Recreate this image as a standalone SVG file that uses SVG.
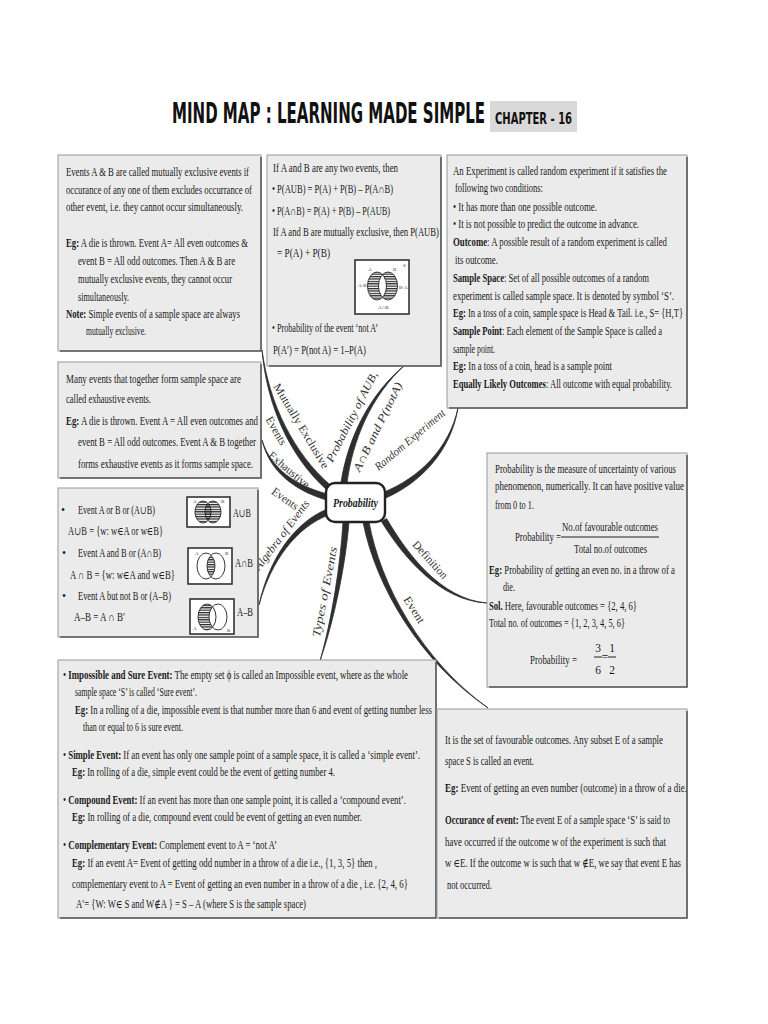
<svg xmlns="http://www.w3.org/2000/svg" width="768" height="1024" viewBox="0 0 768 1024">
<defs>
<style>
.box{fill:#ebebeb;stroke:#9a9a9a;stroke-width:1}
.sh{fill:none;stroke:#5a5a5a;stroke-width:1.6}
.t{font-family:"Liberation Serif","DejaVu Serif","Times New Roman",serif;font-size:11.5px;fill:#1a1a1a}
.b{font-weight:bold}
.lb{font-family:"Liberation Serif","DejaVu Serif","Times New Roman",serif;font-size:11.5px;fill:#333;text-anchor:middle}
.it{font-style:italic}
.br{fill:#2e2e2e;stroke:#2e2e2e;stroke-width:0.8;stroke-linejoin:round}
.vb{fill:#fff;stroke:#333;stroke-width:1.6}
.ve{fill:none;stroke:#222;stroke-width:0.9}
.vt{font-family:"Liberation Serif","DejaVu Serif",serif;font-size:5px;fill:#333}
.ttl{font-family:"DejaVu Sans Condensed","DejaVu Sans",sans-serif;font-weight:bold;fill:#111}
</style>
<pattern id="hatch" width="4" height="2.4" patternUnits="userSpaceOnUse"><rect width="4" height="1.2" fill="#222"/></pattern>
<clipPath id="cA"><ellipse cx="377" cy="286" rx="9.5" ry="14"/></clipPath>
<clipPath id="cB2"><ellipse cx="206" cy="566" rx="9" ry="13"/></clipPath>
<clipPath id="cB3"><ellipse cx="207" cy="617" rx="9" ry="13"/></clipPath>
</defs>
<rect width="768" height="1024" fill="#fff"/>

<g id="title">
<text class="ttl" transform="translate(172,123) scale(0.62,1)" font-size="28" textLength="505" lengthAdjust="spacingAndGlyphs">MIND MAP : LEARNING MADE SIMPLE</text>
<rect x="490" y="101" width="87" height="31" fill="#d9d9d9"/>
<text class="ttl" transform="translate(495,124) scale(0.67,1)" font-size="16" textLength="115" lengthAdjust="spacingAndGlyphs">CHAPTER - 16</text>
</g>

<g id="connectors">
<path class="br" d="M330,484.8 C294,453.5 269.4,404.6 262,350 C266.6,405.4 290,456.5 326,489.2 Z"/>
<path class="br" d="M327.8,494.1 C296.1,485.7 271,469.3 262,440 C269,470.7 293.9,490.3 326.2,499.9 Z"/>
<path class="br" d="M326.9,509.2 C293.4,523.1 268.9,559.5 259,605 C271.1,560.5 296.6,526.9 329.1,514.8 Z"/>
<path class="br" d="M343,521.8 C340.5,564.7 331.8,619.7 320,661 C334.2,620.3 345.5,565.3 349,522.2 Z"/>
<path class="br" d="M363.1,522.6 C375.7,585.9 419.1,660.8 488,708 C420.9,659.2 380.3,584.1 368.9,521.4 Z"/>
<path class="br" d="M381.4,521.5 C403,556.4 439.4,601 487,603 C440.6,599 407,553.6 386.6,518.5 Z"/>
<path class="br" d="M386.2,497.8 C421.4,482.1 451.1,450.6 458,408 C448.9,449.4 418.6,477.9 383.8,492.2 Z"/>
<path class="br" d="M347,483.4 C352.4,440.7 371,395.7 405,365 C369,394.3 347.6,439.3 341,482.6 Z"/>
<text class="lb" transform="translate(301,426) rotate(59)" y="3.5" textLength="97" lengthAdjust="spacingAndGlyphs">Mutually Exclusive</text>
<text class="lb" transform="translate(276,431) rotate(60)" y="3.5" textLength="31" lengthAdjust="spacingAndGlyphs">Events</text>
<text class="lb" transform="translate(289,470) rotate(40)" y="3.5" textLength="50" lengthAdjust="spacingAndGlyphs">Exhaustive</text>
<text class="lb" transform="translate(285,499) rotate(35)" y="3.5" textLength="30" lengthAdjust="spacingAndGlyphs">Events</text>
<text class="lb it" transform="translate(282,535) rotate(-53)" y="3.5" textLength="84" lengthAdjust="spacingAndGlyphs">Algebra of Events</text>
<text class="lb it" transform="translate(325,592) rotate(-79)" y="3.5" textLength="92" lengthAdjust="spacingAndGlyphs">Types of Events</text>
<text class="lb" transform="translate(414,610) rotate(58)" y="3.5" textLength="30" lengthAdjust="spacingAndGlyphs">Event</text>
<text class="lb" transform="translate(430,560) rotate(48)" y="3.5" textLength="47" lengthAdjust="spacingAndGlyphs">Definition</text>
<text class="lb it" transform="translate(410,440) rotate(-40)" y="3.5" textLength="88" lengthAdjust="spacingAndGlyphs">Random Experiment</text>
<text class="lb it" transform="translate(352,417) rotate(-63)" y="3.5" textLength="100" lengthAdjust="spacingAndGlyphs">Probability of AUB,</text>
<text class="lb it" transform="translate(378,427) rotate(-64)" y="3.5" textLength="98" lengthAdjust="spacingAndGlyphs">A∩B and P(notA)</text>
</g>

<g id="node-probability">
<rect x="326" y="483" width="59" height="39" rx="9" fill="#fff" stroke="#222" stroke-width="2.4"/>
<text x="355.5" y="507" text-anchor="middle" font-family="Liberation Serif, serif" font-style="italic" font-weight="bold" font-size="12.5" fill="#222" textLength="45" lengthAdjust="spacingAndGlyphs">Probability</text>
</g>

<g id="box-mutually-exclusive">
<rect class="box" x="58" y="155" width="203" height="196"/>
<polyline class="sh" points="261,157 261,351 60,351"/>
<text class="t" transform="translate(66,0) scale(0.7,1)" y="176" textLength="261.4" lengthAdjust="spacingAndGlyphs">Events A &amp; B are called mutually exclusive events if</text>
<text class="t" transform="translate(66,0) scale(0.7,1)" y="194" textLength="265.7" lengthAdjust="spacingAndGlyphs">occurance of any one of them excludes occurrance of</text>
<text class="t" transform="translate(66,0) scale(0.7,1)" y="211" textLength="252.9" lengthAdjust="spacingAndGlyphs">other event, i.e. they cannot occur simultaneously.</text>
<text class="t" transform="translate(66,0) scale(0.7,1)" y="247" textLength="260" lengthAdjust="spacingAndGlyphs"><tspan class="b">Eg:</tspan> A die is thrown. Event A= All even outcomes &amp;</text>
<text class="t" transform="translate(78,0) scale(0.7,1)" y="265" textLength="224.3" lengthAdjust="spacingAndGlyphs">event B = All odd outcomes. Then A &amp; B are</text>
<text class="t" transform="translate(78,0) scale(0.7,1)" y="283" textLength="220" lengthAdjust="spacingAndGlyphs">mutually exclusive events, they cannot occur</text>
<text class="t" transform="translate(78,0) scale(0.7,1)" y="301" textLength="72.9" lengthAdjust="spacingAndGlyphs">simultaneously.</text>
<text class="t" transform="translate(66,0) scale(0.7,1)" y="318" textLength="248.6" lengthAdjust="spacingAndGlyphs"><tspan class="b">Note:</tspan> Simple events of a sample space are always</text>
<text class="t" transform="translate(86,0) scale(0.7,1)" y="335" textLength="85.7" lengthAdjust="spacingAndGlyphs">mutually exclusive.</text>
</g>

<g id="box-probability-rules">
<rect class="box" x="267" y="155" width="174" height="211"/>
<polyline class="sh" points="441,157 441,366 269,366"/>
<text class="t" transform="translate(273,0) scale(0.7,1)" y="172" textLength="178.6" lengthAdjust="spacingAndGlyphs">If A and B are any two events, then</text>
<text class="t" transform="translate(272,0) scale(0.7,1)" y="193" textLength="172.9" lengthAdjust="spacingAndGlyphs">• P(AUB) = P(A) + P(B) – P(A∩B)</text>
<text class="t" transform="translate(272,0) scale(0.7,1)" y="215" textLength="168.6" lengthAdjust="spacingAndGlyphs">• P(A∩B) = P(A) + P(B) – P(AUB)</text>
<text class="t" transform="translate(273,0) scale(0.7,1)" y="236" textLength="237.1" lengthAdjust="spacingAndGlyphs">If A and B are mutually exclusive, then P(AUB)</text>
<text class="t" transform="translate(277,0) scale(0.7,1)" y="257" textLength="75.7" lengthAdjust="spacingAndGlyphs">= P(A) + P(B)</text>
<rect class="vb" x="355" y="260" width="54" height="54"/>
<ellipse cx="377" cy="286" rx="9.5" ry="14" fill="url(#hatch)"/>
<ellipse cx="388" cy="286" rx="9.5" ry="14" fill="url(#hatch)"/>
<ellipse cx="388" cy="286" rx="9.5" ry="14" fill="#fff" clip-path="url(#cA)"/>
<ellipse class="ve" cx="377" cy="286" rx="9.5" ry="14"/>
<ellipse class="ve" cx="388" cy="286" rx="9.5" ry="14"/>
<text class="vt" x="368" y="271">A</text>
<text class="vt" x="393" y="271">B</text>
<text class="vt" x="403" y="267">S</text>
<text class="vt" x="358" y="287">A-B</text>
<text class="vt" x="399" y="289">B-A</text>
<text class="vt" x="378" y="309">A∩B</text>
<text class="t" transform="translate(272,0) scale(0.7,1)" y="332" textLength="151.4" lengthAdjust="spacingAndGlyphs">• Probability of the event ‘not A’</text>
<text class="t" transform="translate(273,0) scale(0.7,1)" y="354" textLength="132.9" lengthAdjust="spacingAndGlyphs">P(A′) = P(not A) = 1–P(A)</text>
</g>

<g id="box-random-experiment">
<rect class="box" x="447" y="155" width="240" height="253"/>
<polyline class="sh" points="687,157 687,408 449,408"/>
<text class="t" transform="translate(453,0) scale(0.7,1)" y="175" textLength="305.7" lengthAdjust="spacingAndGlyphs">An Experiment is called random experiment if it satisfies the</text>
<text class="t" transform="translate(455,0) scale(0.7,1)" y="192" textLength="125.7" lengthAdjust="spacingAndGlyphs">following two conditions:</text>
<text class="t" transform="translate(453,0) scale(0.7,1)" y="211" textLength="205.7" lengthAdjust="spacingAndGlyphs">• It has more than one possible outcome.</text>
<text class="t" transform="translate(453,0) scale(0.7,1)" y="228" textLength="265.7" lengthAdjust="spacingAndGlyphs">• It is not possible to predict the outcome in advance.</text>
<text class="t" transform="translate(453,0) scale(0.7,1)" y="246" textLength="305.7" lengthAdjust="spacingAndGlyphs"><tspan class="b">Outcome</tspan>: A possible result of a random experiment is called</text>
<text class="t" transform="translate(455,0) scale(0.7,1)" y="264" textLength="61.4" lengthAdjust="spacingAndGlyphs">its outcome.</text>
<text class="t" transform="translate(453,0) scale(0.7,1)" y="282" textLength="280" lengthAdjust="spacingAndGlyphs"><tspan class="b">Sample Space</tspan>: Set of all possible outcomes of a random</text>
<text class="t" transform="translate(453,0) scale(0.7,1)" y="300" textLength="315.7" lengthAdjust="spacingAndGlyphs">experiment is called sample space. It is denoted by symbol ‘S’.</text>
<text class="t" transform="translate(453,0) scale(0.7,1)" y="317" textLength="328.6" lengthAdjust="spacingAndGlyphs"><tspan class="b">Eg:</tspan> In a toss of a coin, sample space is Head &amp; Tail. i.e., S= {H,T}</text>
<text class="t" transform="translate(453,0) scale(0.7,1)" y="335" textLength="298.6" lengthAdjust="spacingAndGlyphs"><tspan class="b">Sample Point</tspan>: Each element of the Sample Space is called a</text>
<text class="t" transform="translate(453,0) scale(0.7,1)" y="353" textLength="60" lengthAdjust="spacingAndGlyphs">sample point.</text>
<text class="t" transform="translate(453,0) scale(0.7,1)" y="370" textLength="227.1" lengthAdjust="spacingAndGlyphs"><tspan class="b">Eg:</tspan> In a toss of a coin, head is a sample point</text>
<text class="t" transform="translate(453,0) scale(0.7,1)" y="388" textLength="312.9" lengthAdjust="spacingAndGlyphs"><tspan class="b">Equally Likely Outcomes</tspan>: All outcome with equal probability.</text>
</g>

<g id="box-exhaustive">
<rect class="box" x="58" y="362" width="203" height="116"/>
<polyline class="sh" points="261,364 261,478 60,478"/>
<text class="t" transform="translate(66,0) scale(0.7,1)" y="383" textLength="250" lengthAdjust="spacingAndGlyphs">Many events that together form sample space are</text>
<text class="t" transform="translate(66,0) scale(0.7,1)" y="403" textLength="121.4" lengthAdjust="spacingAndGlyphs">called exhaustive events.</text>
<text class="t" transform="translate(66,0) scale(0.7,1)" y="425" textLength="274.3" lengthAdjust="spacingAndGlyphs"><tspan class="b">Eg:</tspan> A die is thrown. Event A = All even outcomes and</text>
<text class="t" transform="translate(78,0) scale(0.7,1)" y="446" textLength="254.3" lengthAdjust="spacingAndGlyphs">event B = All odd outcomes. Event A &amp; B together</text>
<text class="t" transform="translate(78,0) scale(0.7,1)" y="468" textLength="250" lengthAdjust="spacingAndGlyphs">forms exhaustive events as it forms sample space.</text>
</g>

<g id="box-algebra">
<rect class="box" x="58" y="488" width="200" height="149"/>
<polyline class="sh" points="258,490 258,637 60,637"/>
<text class="t" x="61" y="514">•</text>
<text class="t" transform="translate(78,0) scale(0.7,1)" y="514" textLength="110" lengthAdjust="spacingAndGlyphs">Event A or B or (A∪B)</text>
<text class="t" transform="translate(68,0) scale(0.7,1)" y="535" textLength="135.7" lengthAdjust="spacingAndGlyphs">A∪B = {w: w∈A or w∈B}</text>
<text class="t" x="62" y="557">•</text>
<text class="t" transform="translate(78,0) scale(0.7,1)" y="557" textLength="118.6" lengthAdjust="spacingAndGlyphs">Event A and B or (A∩B)</text>
<text class="t" transform="translate(70,0) scale(0.7,1)" y="579" textLength="150" lengthAdjust="spacingAndGlyphs">A ∩ B = {w: w∈A and w∈B}</text>
<text class="t" x="62" y="600">•</text>
<text class="t" transform="translate(78,0) scale(0.7,1)" y="600" textLength="132.9" lengthAdjust="spacingAndGlyphs">Event A but not B or (A–B)</text>
<text class="t" transform="translate(74,0) scale(0.7,1)" y="621" textLength="72.9" lengthAdjust="spacingAndGlyphs">A–B = A ∩ B′</text>
<rect class="vb" x="187" y="497" width="43" height="30"/>
<ellipse cx="203" cy="512" rx="8" ry="11" fill="url(#hatch)"/>
<ellipse cx="213" cy="512" rx="8" ry="11" fill="url(#hatch)"/>
<ellipse class="ve" cx="203" cy="512" rx="8" ry="11"/>
<ellipse class="ve" cx="213" cy="512" rx="8" ry="11"/>
<text class="vt" x="193" y="503">A</text>
<text class="vt" x="221" y="503">B</text>
<text class="t" transform="translate(233,0) scale(0.7,1)" y="517" textLength="25.7" lengthAdjust="spacingAndGlyphs">A∪B</text>
<rect class="vb" x="188" y="548" width="44" height="36"/>
<ellipse cx="216" cy="566" rx="9" ry="13" fill="url(#hatch)" clip-path="url(#cB2)"/>
<ellipse class="ve" cx="206" cy="566" rx="9" ry="13"/>
<ellipse class="ve" cx="216" cy="566" rx="9" ry="13"/>
<text class="vt" x="195" y="555">A</text>
<text class="vt" x="225" y="555">B</text>
<text class="t" transform="translate(235,0) scale(0.7,1)" y="567" textLength="25.7" lengthAdjust="spacingAndGlyphs">A∩B</text>
<rect class="vb" x="190" y="599" width="44" height="35"/>
<ellipse cx="207" cy="617" rx="9" ry="13" fill="url(#hatch)"/>
<ellipse cx="218" cy="617" rx="9" ry="13" fill="#fff" clip-path="url(#cB3)"/>
<ellipse class="ve" cx="207" cy="617" rx="9" ry="13"/>
<ellipse class="ve" cx="218" cy="617" rx="9" ry="13"/>
<text class="vt" x="193" y="630">A</text>
<text class="vt" x="227" y="632">B</text>
<text class="t" transform="translate(237,0) scale(0.7,1)" y="616" textLength="22.9" lengthAdjust="spacingAndGlyphs">A–B</text>
</g>

<g id="box-definition">
<rect class="box" x="487" y="453" width="200" height="234"/>
<polyline class="sh" points="687,455 687,687 489,687"/>
<text class="t" transform="translate(495,0) scale(0.7,1)" y="473" textLength="258.6" lengthAdjust="spacingAndGlyphs">Probability is the measure of uncertainty of various</text>
<text class="t" transform="translate(495,0) scale(0.7,1)" y="490" textLength="270" lengthAdjust="spacingAndGlyphs">phenomenon, numerically. It can have positive value</text>
<text class="t" transform="translate(495,0) scale(0.7,1)" y="509" textLength="55.7" lengthAdjust="spacingAndGlyphs">from 0 to 1.</text>
<text class="t" transform="translate(515,0) scale(0.7,1)" y="541" textLength="65.7" lengthAdjust="spacingAndGlyphs">Probability =</text>
<text class="t" transform="translate(562,0) scale(0.7,1)" y="531" textLength="137.1" lengthAdjust="spacingAndGlyphs">No.of favourable outcomes</text>
<line x1="561" y1="537" x2="659" y2="537" stroke="#222" stroke-width="1.2"/>
<text class="t" transform="translate(574,0) scale(0.7,1)" y="553" textLength="104.3" lengthAdjust="spacingAndGlyphs">Total no.of outcomes</text>
<text class="t" transform="translate(489,0) scale(0.7,1)" y="574" textLength="265.7" lengthAdjust="spacingAndGlyphs"><tspan class="b">Eg:</tspan> Probability of getting an even no. in a throw of a</text>
<text class="t" transform="translate(503,0) scale(0.7,1)" y="591" textLength="17.1" lengthAdjust="spacingAndGlyphs">die.</text>
<text class="t" transform="translate(489,0) scale(0.7,1)" y="610" textLength="211.4" lengthAdjust="spacingAndGlyphs"><tspan class="b">Sol.</tspan> Here, favourable outcomes = {2, 4, 6}</text>
<text class="t" transform="translate(489,0) scale(0.7,1)" y="627" textLength="194.3" lengthAdjust="spacingAndGlyphs">Total no. of outcomes = {1, 2, 3, 4, 5, 6}</text>
<text class="t" transform="translate(530,0) scale(0.7,1)" y="664" textLength="67.1" lengthAdjust="spacingAndGlyphs">Probability =</text>
<text class="t" x="598" y="652" text-anchor="middle">3</text>
<line x1="594" y1="657" x2="602" y2="657" stroke="#222" stroke-width="1"/>
<text class="t" x="598" y="674" text-anchor="middle">6</text>
<text class="t" x="605" y="661" text-anchor="middle">=</text>
<text class="t" x="612" y="652" text-anchor="middle">1</text>
<line x1="608" y1="657" x2="616" y2="657" stroke="#222" stroke-width="1"/>
<text class="t" x="612" y="674" text-anchor="middle">2</text>
</g>

<g id="box-types-of-events">
<rect class="box" x="58" y="660" width="378" height="258"/>
<polyline class="sh" points="436,662 436,918 60,918"/>
<text class="t" transform="translate(63,0) scale(0.7,1)" y="679" textLength="492.9" lengthAdjust="spacingAndGlyphs">• <tspan class="b">Impossible and Sure Event:</tspan> The empty set ϕ is called an Impossible event, where as the whole</text>
<text class="t" transform="translate(75,0) scale(0.7,1)" y="696" textLength="174.3" lengthAdjust="spacingAndGlyphs">sample space ‘S’ is called ‘Sure event’.</text>
<text class="t" transform="translate(75,0) scale(0.7,1)" y="714" textLength="510" lengthAdjust="spacingAndGlyphs"><tspan class="b">Eg:</tspan> In a rolling of a die, impossible event is that number more than 6 and event of getting number less</text>
<text class="t" transform="translate(83,0) scale(0.7,1)" y="731" textLength="142.9" lengthAdjust="spacingAndGlyphs">than or equal to 6 is sure event.</text>
<text class="t" transform="translate(63,0) scale(0.7,1)" y="759" textLength="510" lengthAdjust="spacingAndGlyphs">• <tspan class="b">Simple Event:</tspan> If an event has only one sample point of a sample space, it is called a ‘simple event’.</text>
<text class="t" transform="translate(72,0) scale(0.7,1)" y="776" textLength="375.7" lengthAdjust="spacingAndGlyphs"><tspan class="b">Eg:</tspan> In rolling of a die, simple event could be the event of getting number 4.</text>
<text class="t" transform="translate(63,0) scale(0.7,1)" y="804" textLength="490" lengthAdjust="spacingAndGlyphs">• <tspan class="b">Compound Event:</tspan> If an event has more than one sample point, it is called a ‘compound event’.</text>
<text class="t" transform="translate(72,0) scale(0.7,1)" y="821" textLength="414.3" lengthAdjust="spacingAndGlyphs"><tspan class="b">Eg:</tspan> In rolling of a die, compound event could be event of getting an even number.</text>
<text class="t" transform="translate(63,0) scale(0.7,1)" y="849" textLength="305.7" lengthAdjust="spacingAndGlyphs">• <tspan class="b">Complementary Event:</tspan> Complement event to A = ‘not A’</text>
<text class="t" transform="translate(72,0) scale(0.7,1)" y="867" textLength="435.7" lengthAdjust="spacingAndGlyphs"><tspan class="b">Eg:</tspan> If an event A= Event of getting odd number in a throw of a die i.e., {1, 3, 5} then ,</text>
<text class="t" transform="translate(72,0) scale(0.7,1)" y="888" textLength="480" lengthAdjust="spacingAndGlyphs">complementary event to A = Event of getting an even number in a throw of a die , i.e. {2, 4, 6}</text>
<text class="t" transform="translate(76,0) scale(0.7,1)" y="908" textLength="328.6" lengthAdjust="spacingAndGlyphs">A′= {W: W∈ S and W∉A } = S – A  (where S is the sample space)</text>
</g>

<g id="box-event">
<rect class="box" x="437" y="709" width="250" height="209"/>
<polyline class="sh" points="687,711 687,918 439,918"/>
<text class="t" transform="translate(445,0) scale(0.7,1)" y="744" textLength="311.4" lengthAdjust="spacingAndGlyphs">It is the set of favourable outcomes. Any subset E of a sample</text>
<text class="t" transform="translate(445,0) scale(0.7,1)" y="765" textLength="127.1" lengthAdjust="spacingAndGlyphs">space S is called an event.</text>
<text class="t" transform="translate(445,0) scale(0.7,1)" y="792" textLength="345.7" lengthAdjust="spacingAndGlyphs"><tspan class="b">Eg:</tspan> Event of getting an even number (outcome) in a throw of a die.</text>
<text class="t" transform="translate(445,0) scale(0.7,1)" y="824" textLength="321.4" lengthAdjust="spacingAndGlyphs"><tspan class="b">Occurance of event:</tspan> The event E of a sample space ‘S’ is said to</text>
<text class="t" transform="translate(445,0) scale(0.7,1)" y="846" textLength="315.7" lengthAdjust="spacingAndGlyphs">have occurred if the outcome w of the experiment is such that</text>
<text class="t" transform="translate(445,0) scale(0.7,1)" y="867" textLength="337.1" lengthAdjust="spacingAndGlyphs">w ∈E. If the outcome w is such that w ∉E, we say that event E has</text>
<text class="t" transform="translate(447,0) scale(0.7,1)" y="889" textLength="64.3" lengthAdjust="spacingAndGlyphs">not occurred.</text>
</g>
</svg>
